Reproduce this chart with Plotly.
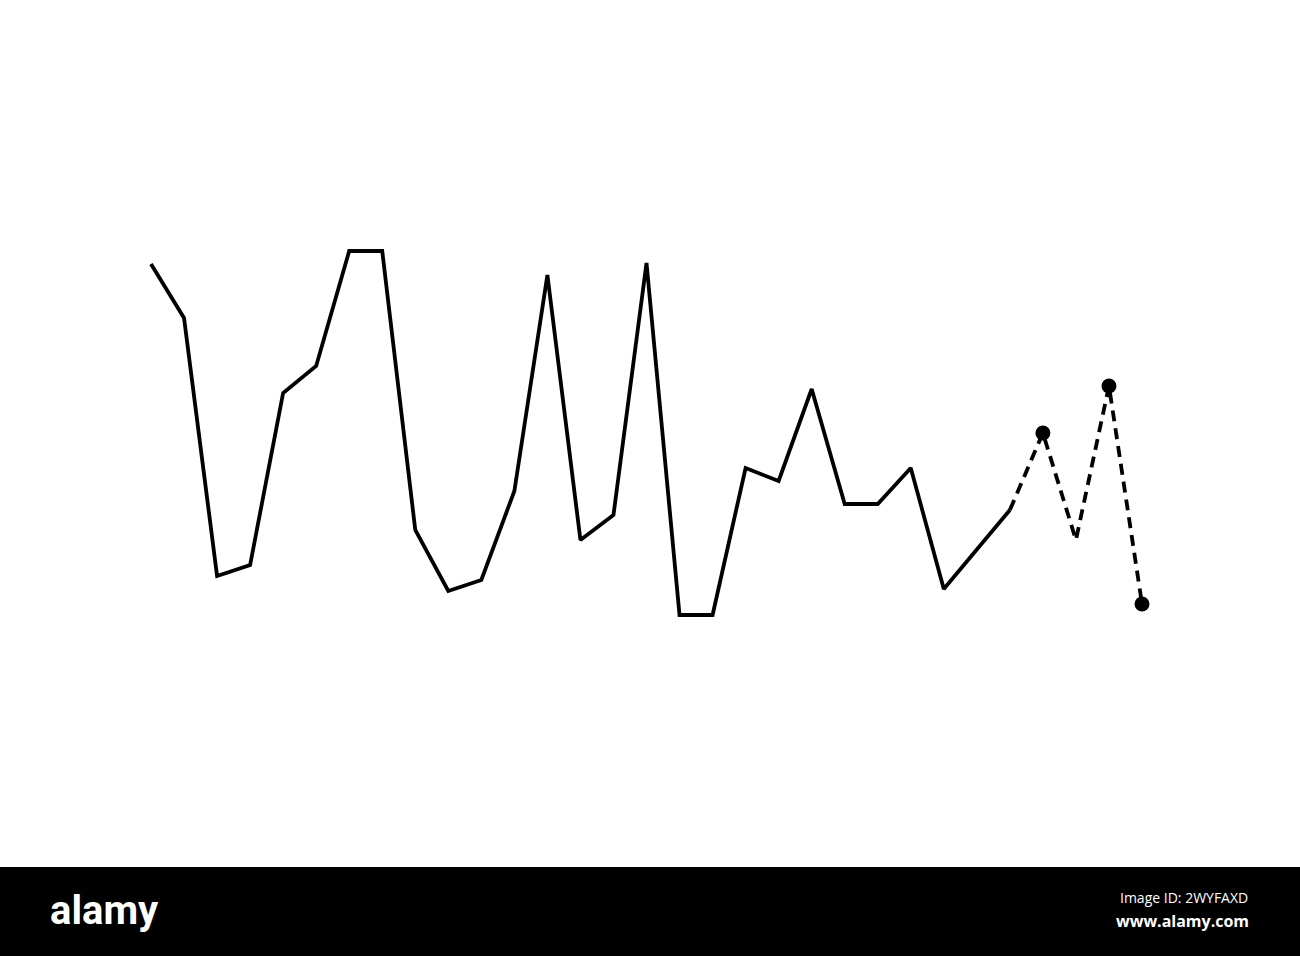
import plotly.graph_objects as go

# index positions of the series
x_solid = list(range(0, 27))
y_solid = [692, 638, 380, 391, 563, 590, 705, 705, 426, 365, 376, 465, 681, 416,
           441, 693, 341, 341, 488, 475, 567, 452, 452, 488, 367, 406, 446]
x_dash = [26, 27, 28, 29, 30]
y_dash = [446, 523, 416, 570, 352]
x_marks = [27, 29, 30]
y_marks = [523, 570, 352]

fig = go.Figure()
fig.add_trace(go.Scatter(x=x_solid, y=y_solid, mode="lines",
                         line=dict(color="black", width=3.8), hoverinfo="skip"))
fig.add_trace(go.Scatter(x=x_dash, y=y_dash, mode="lines",
                         line=dict(color="black", width=3.8, dash="11px,7px"), hoverinfo="skip"))
fig.add_trace(go.Scatter(x=x_marks, y=y_marks, mode="markers",
                         marker=dict(color="black", size=15), hoverinfo="skip"))

step = (1142 - 151) / 30.0
fig.update_layout(
    width=1300, height=956,
    margin=dict(l=0, r=0, t=0, b=0),
    paper_bgcolor="white", plot_bgcolor="white",
    showlegend=False,
    hovermode=False,
    xaxis=dict(range=[-151 / step, (1300 - 151) / step], visible=False, fixedrange=True),
    yaxis=dict(range=[0, 956], visible=False, fixedrange=True),
)
band_top = (956 - 867) / 956
fig.add_shape(type="rect", xref="paper", yref="paper", x0=0, x1=1, y0=0, y1=band_top,
              fillcolor="black", line=dict(width=0), layer="above")
fig.add_annotation(xref="paper", yref="paper", x=48 / 1300, y=(956 - 910) / 956,
                   xanchor="left", yanchor="middle", showarrow=False,
                   text="<b>alamy</b>",
                   font=dict(family="Roboto, Liberation Sans", size=40, color="white"))
fig.add_annotation(xref="paper", yref="paper", x=1250 / 1300, y=(956 - 897) / 956,
                   xanchor="right", yanchor="middle", showarrow=False,
                   text="Image ID: 2WYFAXD",
                   font=dict(family="Open Sans, Noto Sans, DejaVu Sans", size=14, color="white"))
fig.add_annotation(xref="paper", yref="paper", x=1251 / 1300, y=(956 - 921) / 956,
                   xanchor="right", yanchor="middle", showarrow=False,
                   text="<b>www.alamy.com</b>",
                   font=dict(family="Open Sans, Noto Sans, DejaVu Sans", size=16, color="white"))
fig.write_html("out.html", config={"displayModeBar": False},
               post_script="document.body.style.margin='0px';")
